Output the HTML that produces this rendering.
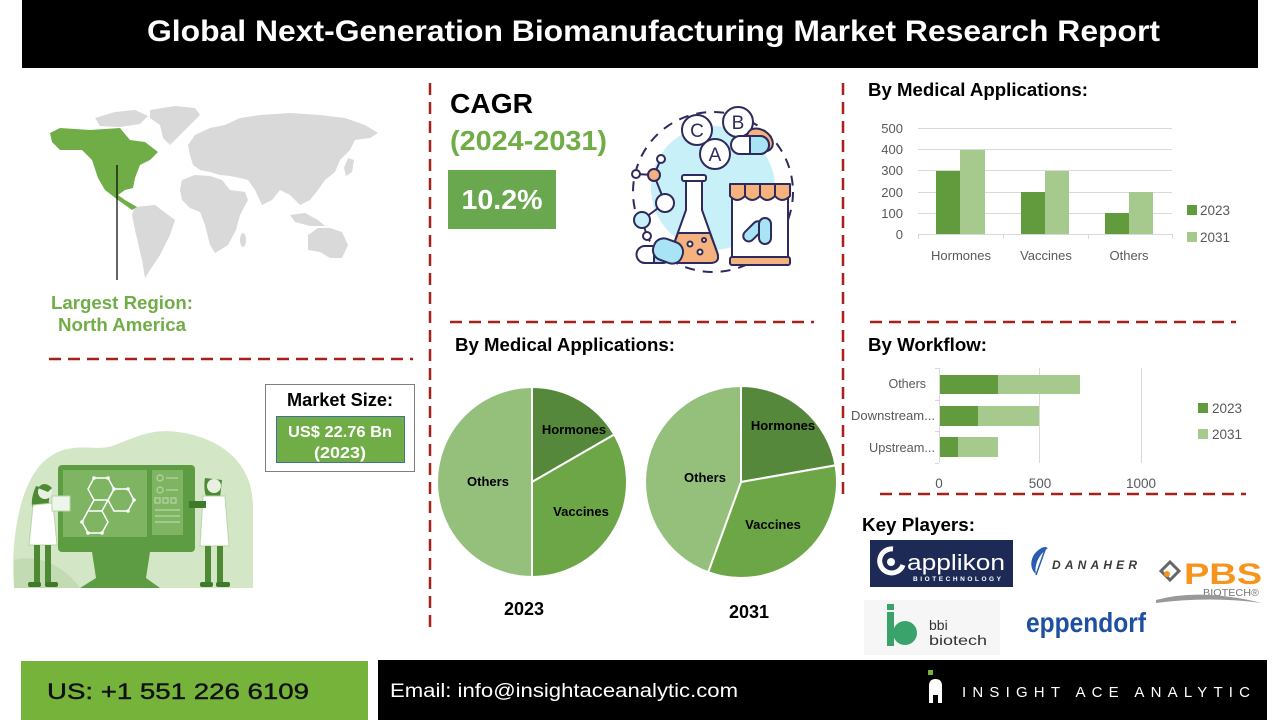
<!DOCTYPE html>
<html><head><meta charset="utf-8"><style>
html,body{margin:0;padding:0;background:#fff;}
svg{display:block;}
text{font-family:"Liberation Sans",Arial,sans-serif;}
</style></head><body>
<svg width="1280" height="720" viewBox="0 0 1280 720" xmlns="http://www.w3.org/2000/svg">
<rect width="1280" height="720" fill="#fff"/>
<!-- Header -->
<rect x="22" y="0" width="1236" height="68" fill="#000"/>
<text x="147" y="41" font-size="30" font-weight="bold" fill="#fff" textLength="1013" lengthAdjust="spacingAndGlyphs">Global Next-Generation Biomanufacturing Market Research Report</text>

<!-- Dashed dividers -->
<g stroke="#a8201a" stroke-width="2.5" stroke-dasharray="12 7" fill="none">
<line x1="430" y1="83" x2="430" y2="627"/>
<line x1="843" y1="83" x2="843" y2="498"/>
<line x1="49" y1="359" x2="413" y2="359"/>
<line x1="450" y1="322" x2="814" y2="322"/>
<line x1="870" y1="322" x2="1236" y2="322"/>
<line x1="880" y1="494" x2="1246" y2="494"/>
</g>

<!-- World map -->
<g fill="#d9d9d9">
<path d="M150,110 L175,106 L195,108 L200,115 L190,125 L180,135 L170,145 L163,138 L160,125 L150,118 Z"/>
<path d="M95,118 L115,112 L135,110 L148,116 L140,124 L120,127 L100,126 Z"/>
<path d="M188,145 L195,135 L210,128 L225,125 L240,118 L260,115 L290,113 L320,115 L345,118 L365,125 L378,133 L370,138 L355,140 L350,150 L340,160 L335,172 L325,180 L318,190 L310,200 L300,205 L290,195 L280,190 L272,200 L262,205 L255,190 L248,180 L240,178 L230,176 L220,175 L210,172 L200,170 L193,165 L190,155 Z"/>
<path d="M182,180 L195,175 L210,176 L222,180 L230,190 L245,192 L248,200 L240,215 L236,230 L228,245 L215,253 L210,245 L205,225 L200,212 L190,208 L182,200 L180,190 Z"/>
<ellipse cx="243" cy="240" rx="3" ry="7"/>
<path d="M308,235 L318,228 L330,228 L342,232 L348,245 L342,258 L330,258 L320,252 L308,250 Z"/>
<path d="M290,215 L305,213 L318,220 L325,226 L310,226 L295,222 Z"/>
<path d="M348,158 L354,160 L352,172 L346,176 L344,168 Z"/>
<path d="M135,207 L155,205 L175,220 L170,235 L160,255 L150,270 L145,278 L142,260 L135,230 L132,215 Z"/>
</g>
<path fill="#70ad47" d="M50,133 L60,128 L90,130 L120,128 L130,140 L145,142 L158,152 L150,160 L140,165 L135,178 L133,188 L125,190 L118,195 L125,200 L137,207 L132,210 L118,200 L105,190 L98,178 L92,160 L82,150 L60,150 L52,142 Z"/>
<line x1="117" y1="165" x2="117" y2="280" stroke="#000" stroke-width="1.2"/>
<text x="51" y="309" font-size="18" font-weight="bold" fill="#70ad47" textLength="142" lengthAdjust="spacingAndGlyphs">Largest Region:</text>
<text x="58" y="331" font-size="18" font-weight="bold" fill="#70ad47" textLength="128" lengthAdjust="spacingAndGlyphs">North America</text>

<!-- Market Size -->
<rect x="265.5" y="384.5" width="149" height="87" fill="#fff" stroke="#7f7f7f" stroke-width="1"/>
<text x="340" y="406" font-size="18" font-weight="bold" fill="#000" text-anchor="middle" textLength="106" lengthAdjust="spacingAndGlyphs">Market Size:</text>
<rect x="276.5" y="416.5" width="128" height="46" fill="#70ad47" stroke="#41719c" stroke-width="1"/>
<text x="340" y="437" font-size="16" font-weight="bold" fill="#fff" text-anchor="middle" textLength="104" lengthAdjust="spacingAndGlyphs">US$ 22.76 Bn</text>
<text x="340" y="458" font-size="16" font-weight="bold" fill="#fff" text-anchor="middle" textLength="52" lengthAdjust="spacingAndGlyphs">(2023)</text>

<!-- Scientist illustration -->
<path fill="#d3e6c6" d="M14,588 C10,540 20,478 48,458 C72,440 95,452 112,446 C135,438 150,428 178,432 C215,437 252,458 253,505 L253,588 Z"/>
<path fill="#c2dbb2" d="M14,588 L14,560 C30,555 60,560 80,588 Z"/>
<g>
<rect x="58" y="465" width="137" height="87" rx="4" fill="#5e9c44"/>
<rect x="63" y="470" width="84" height="67" fill="#7fb463"/>
<rect x="152" y="470" width="31" height="65" fill="#7fb463"/>
<path d="M92,552 L150,552 L146,578 L160,588 L80,588 L96,578 Z" fill="#5e9c44"/>
<g stroke="#fff" stroke-width="1.5" fill="none">
<polygon points="94,478 108,478 114,489 108,500 94,500 88,489"/>
<polygon points="114,489 128,489 134,500 128,511 114,511 108,500"/>
<polygon points="88,511 102,511 108,522 102,533 88,533 82,522"/>
<line x1="94" y1="500" x2="88" y2="511"/>
<line x1="108" y1="500" x2="102" y2="511"/>
</g>
<g fill="#fff"><circle cx="94" cy="478" r="1.8"/><circle cx="108" cy="478" r="1.8"/><circle cx="114" cy="489" r="1.8"/><circle cx="128" cy="489" r="1.8"/><circle cx="134" cy="500" r="1.8"/><circle cx="128" cy="511" r="1.8"/><circle cx="88" cy="533" r="1.8"/><circle cx="102" cy="533" r="1.8"/><circle cx="82" cy="522" r="1.8"/></g>
<g fill="none" stroke="#b8d6a6" stroke-width="1.2"><circle cx="160" cy="478" r="3"/><circle cx="160" cy="490" r="3"/><line x1="166" y1="478" x2="178" y2="478"/><line x1="166" y1="490" x2="178" y2="490"/><rect x="155" y="498" width="5" height="5"/><rect x="163" y="498" width="5" height="5"/><rect x="171" y="498" width="5" height="5"/><line x1="155" y1="510" x2="180" y2="510"/><line x1="155" y1="516" x2="180" y2="516"/><line x1="155" y1="522" x2="180" y2="522"/></g>
<!-- left woman -->
<path d="M36,486 C32,495 30,505 34,512 L48,510 L50,490 Z" fill="#4e8a34"/>
<circle cx="45" cy="492" r="7" fill="#e8f0e2"/>
<path d="M38,488 Q44,480 52,488 L48,492 Z" fill="#4e8a34"/>
<path d="M33,505 L53,503 L57,545 L29,545 Z" fill="#fff" stroke="#b8d6a6" stroke-width="1"/>
<rect x="34" y="545" width="6" height="38" fill="#4e8a34"/>
<rect x="45" y="545" width="6" height="38" fill="#4e8a34"/>
<rect x="28" y="582" width="13" height="5" rx="2" fill="#3f7a2a"/>
<rect x="45" y="582" width="13" height="5" rx="2" fill="#3f7a2a"/>
<rect x="52" y="496" width="18" height="15" fill="#eef5ea" stroke="#b8d6a6"/>
<!-- right woman -->
<path d="M205,478 C203,490 206,500 210,502 L220,498 L222,480 Z" fill="#4e8a34"/>
<circle cx="214" cy="486" r="7" fill="#e8f0e2"/>
<path d="M203,496 L225,496 L229,546 L200,546 Z" fill="#fff" stroke="#b8d6a6" stroke-width="1"/>
<rect x="205" y="546" width="6" height="37" fill="#4e8a34"/>
<rect x="217" y="546" width="6" height="37" fill="#4e8a34"/>
<rect x="200" y="582" width="13" height="5" rx="2" fill="#3f7a2a"/>
<rect x="216" y="582" width="14" height="5" rx="2" fill="#3f7a2a"/>
<rect x="189" y="501" width="17" height="7" fill="#3f7a2a"/>
</g>

<!-- CAGR -->
<text x="450" y="113" font-size="28" font-weight="bold" fill="#000" textLength="83" lengthAdjust="spacingAndGlyphs">CAGR</text>
<text x="450" y="150" font-size="28" font-weight="bold" fill="#70ad47" textLength="157" lengthAdjust="spacingAndGlyphs">(2024-2031)</text>
<rect x="448" y="170" width="108" height="59" fill="#6aa84f"/>
<text x="502" y="209" font-size="28" font-weight="bold" fill="#fff" text-anchor="middle" textLength="81" lengthAdjust="spacingAndGlyphs">10.2%</text>

<!-- CAGR icon -->
<g stroke="#2e2a5c" stroke-width="2" stroke-linejoin="round">
<circle cx="713" cy="188" r="62" fill="#c8f0f8" stroke="none"/>
<circle cx="713" cy="192" r="80" fill="none" stroke-dasharray="10 8"/>
<path d="M661,159 L654,175 L636,174 M654,175 L665,203 L642,220 L647,236" fill="none"/>
<circle cx="661" cy="159" r="4" fill="#fff"/>
<circle cx="636" cy="174" r="4" fill="#fff"/>
<circle cx="654" cy="175" r="6" fill="#f5b27e"/>
<circle cx="665" cy="203" r="9" fill="#fff"/>
<circle cx="642" cy="220" r="8" fill="#c8f0f8"/>
<circle cx="647" cy="236" r="4" fill="#fff"/>
<circle cx="697" cy="130" r="15" fill="#fff"/>
<circle cx="738" cy="122" r="15" fill="#fff"/>
<ellipse cx="760" cy="140" rx="14" ry="10" fill="#f5b27e" transform="rotate(35 760 140)"/>
<circle cx="715" cy="154" r="15" fill="#fff"/>
<rect x="731" y="136" width="38" height="18" rx="9" fill="#fff"/>
<path d="M750,136 L760,136 A9,9 0 0 1 760,154 L750,154 Z" fill="#a8e4f5"/>
<path d="M686,181 L686,210 L671,252 Q668,263 680,263 L710,263 Q721,263 717,252 L702,210 L702,181 Z" fill="#fff"/>
<path d="M678,233 L710,233 L717,252 Q721,263 710,263 L680,263 Q668,263 671,252 Z" fill="#f5b27e"/>
<rect x="682" y="175" width="24" height="6" rx="2" fill="#fff"/>
<circle cx="690" cy="244" r="2.5" fill="#fff"/><circle cx="700" cy="252" r="2.5" fill="#fff"/><circle cx="704" cy="240" r="2" fill="#fff"/>
<rect x="637" y="246" width="34" height="17" rx="8.5" fill="#a8e4f5"/>
<path d="M654,246 L645,246 A8.5,8.5 0 0 0 645,263 L654,263 Z" fill="#fff"/>
<rect x="653" y="240" width="30" height="22" rx="10" fill="#a8e4f5" transform="rotate(20 668 251)"/>
<rect x="732" y="192" width="56" height="72" fill="#fff"/>
<path d="M730,184 L790,184 L790,196 Q782,204 775,196 Q767,204 760,196 Q752,204 745,196 Q737,204 730,196 Z" fill="#f5b27e"/>
<line x1="745" y1="184" x2="745" y2="196"/><line x1="760" y1="184" x2="760" y2="196"/><line x1="775" y1="184" x2="775" y2="196"/>
<rect x="730" y="257" width="60" height="8" rx="2" fill="#f5b27e"/>
<rect x="741" y="226" width="24" height="11" rx="5.5" fill="#a8e4f5" transform="rotate(-45 753 231)"/>
<rect x="759" y="218" width="12" height="26" rx="6" fill="#a8e4f5"/>
</g>
<g font-size="19" fill="#2e2a5c" text-anchor="middle"><text x="697" y="137">C</text><text x="738" y="129">B</text><text x="715" y="161">A</text></g>

<!-- Pie charts -->
<text x="455" y="351" font-size="18" font-weight="bold" fill="#000" textLength="220" lengthAdjust="spacingAndGlyphs">By Medical Applications:</text>
<g stroke="#fff" stroke-width="2">
<path d="M532,482 L532,387 A95,95 0 0 1 614.27,434.5 Z" fill="#55883a"/>
<path d="M532,482 L614.27,434.5 A95,95 0 0 1 532,577 Z" fill="#6da646"/>
<path d="M532,482 L532,577 A95,95 0 0 1 532,387 Z" fill="#94c07c"/>
<path d="M741,482 L741,386 A96,96 0 0 1 835.54,465.33 Z" fill="#55883a"/>
<path d="M741,482 L835.54,465.33 A96,96 0 0 1 708.17,572.21 Z" fill="#6da646"/>
<path d="M741,482 L708.17,572.21 A96,96 0 0 1 741,386 Z" fill="#94c07c"/>
</g>
<g font-size="13" font-weight="bold" fill="#000" text-anchor="middle">
<text x="574" y="434">Hormones</text>
<text x="581" y="516">Vaccines</text>
<text x="488" y="486">Others</text>
<text x="783" y="430">Hormones</text>
<text x="773" y="529">Vaccines</text>
<text x="705" y="482">Others</text>
</g>
<text x="524" y="615" font-size="18" font-weight="bold" fill="#000" text-anchor="middle">2023</text>
<text x="749" y="618" font-size="18" font-weight="bold" fill="#000" text-anchor="middle">2031</text>

<!-- Bar chart -->
<text x="868" y="96" font-size="18" font-weight="bold" fill="#000" textLength="220" lengthAdjust="spacingAndGlyphs">By Medical Applications:</text>
<g stroke="#d9d9d9" stroke-width="1">
<line x1="918" y1="128.5" x2="1172" y2="128.5"/>
<line x1="918" y1="149.5" x2="1172" y2="149.5"/>
<line x1="918" y1="170.5" x2="1172" y2="170.5"/>
<line x1="918" y1="192.5" x2="1172" y2="192.5"/>
<line x1="918" y1="213.5" x2="1172" y2="213.5"/>
<line x1="918" y1="234.5" x2="1172" y2="234.5"/>
<line x1="918.5" y1="234" x2="918.5" y2="239"/>
<line x1="1003.5" y1="234" x2="1003.5" y2="239"/>
<line x1="1088.5" y1="234" x2="1088.5" y2="239"/>
<line x1="1172.5" y1="234" x2="1172.5" y2="239"/>
</g>
<g fill="#629b3e">
<rect x="936" y="171" width="24" height="63"/>
<rect x="1021" y="192" width="24" height="42"/>
<rect x="1105" y="213" width="24" height="21"/>
</g>
<g fill="#a6ca8e">
<rect x="960" y="150" width="25" height="84"/>
<rect x="1045" y="171" width="24" height="63"/>
<rect x="1129" y="192" width="24" height="42"/>
</g>
<g font-size="13" fill="#595959" text-anchor="end">
<text x="903" y="133">500</text><text x="903" y="154">400</text><text x="903" y="175">300</text><text x="903" y="197">200</text><text x="903" y="218">100</text><text x="903" y="239">0</text>
</g>
<g font-size="13" fill="#595959" text-anchor="middle">
<text x="961" y="260">Hormones</text><text x="1046" y="260">Vaccines</text><text x="1129" y="260">Others</text>
</g>
<rect x="1187" y="205" width="10" height="10" fill="#629b3e"/>
<rect x="1187" y="232" width="10" height="10" fill="#a6ca8e"/>
<g font-size="13.5" fill="#595959"><text x="1200" y="215">2023</text><text x="1200" y="242">2031</text></g>

<!-- Workflow chart -->
<text x="868" y="351" font-size="18" font-weight="bold" fill="#000" textLength="119" lengthAdjust="spacingAndGlyphs">By Workflow:</text>
<g stroke="#d9d9d9" stroke-width="1">
<line x1="1039.5" y1="368" x2="1039.5" y2="463"/>
<line x1="1141.5" y1="368" x2="1141.5" y2="463"/>
<line x1="939.5" y1="368" x2="939.5" y2="463"/>
<line x1="935" y1="368.5" x2="939" y2="368.5"/>
<line x1="935" y1="400.5" x2="939" y2="400.5"/>
<line x1="935" y1="431.5" x2="939" y2="431.5"/>
<line x1="935" y1="463.5" x2="939" y2="463.5"/>
</g>
<rect x="940" y="375" width="58" height="19" fill="#629b3e"/>
<rect x="998" y="375" width="82" height="19" fill="#a6ca8e"/>
<rect x="940" y="406" width="38" height="20" fill="#629b3e"/>
<rect x="978" y="406" width="61" height="20" fill="#a6ca8e"/>
<rect x="940" y="437" width="18" height="20" fill="#629b3e"/>
<rect x="958" y="437" width="40" height="20" fill="#a6ca8e"/>
<g font-size="12.5" fill="#595959" text-anchor="end">
<text x="926" y="388">Others</text>
<text x="935" y="420" textLength="84" lengthAdjust="spacingAndGlyphs">Downstream...</text>
<text x="935" y="452" textLength="66" lengthAdjust="spacingAndGlyphs">Upstream...</text>
</g>
<g font-size="13.5" fill="#595959" text-anchor="middle">
<text x="939" y="488">0</text><text x="1040" y="488">500</text><text x="1141" y="488">1000</text>
</g>
<rect x="1198" y="403" width="10" height="10" fill="#629b3e"/>
<rect x="1198" y="429" width="10" height="10" fill="#a6ca8e"/>
<g font-size="13.5" fill="#595959"><text x="1212" y="413">2023</text><text x="1212" y="439">2031</text></g>

<!-- Key Players -->
<text x="862" y="531" font-size="18" font-weight="bold" fill="#000" textLength="113" lengthAdjust="spacingAndGlyphs">Key Players:</text>
<rect x="870" y="540" width="143" height="47" fill="#1c2a55"/>
<path d="M893,549 A12,12 0 1 0 903,565" fill="none" stroke="#fff" stroke-width="5"/>
<circle cx="891" cy="562" r="4" fill="#fff"/>
<text x="907" y="570" font-size="22" fill="#fff" textLength="98" lengthAdjust="spacingAndGlyphs">applikon</text>
<text x="913" y="581" font-size="6.5" font-weight="bold" fill="#fff" textLength="88" lengthAdjust="spacing">BIOTECHNOLOGY</text>
<path d="M1044,547 C1030,552 1028,568 1036,574 C1034,566 1038,555 1048,548 Z" fill="#2a5db0"/>
<path d="M1046,547 L1036,575" stroke="#2a5db0" stroke-width="1.5"/>
<text x="1052" y="569" font-size="12" font-weight="bold" font-style="italic" fill="#3a3a3a" textLength="85" lengthAdjust="spacing">DANAHER</text>
<polygon points="1170,562 1179,571 1170,580 1161,571" fill="none" stroke="#666" stroke-width="3"/>
<circle cx="1167" cy="574" r="3" fill="#f7941d"/>
<text x="1184" y="584" font-size="30" font-weight="bold" fill="#f7941d" textLength="78" lengthAdjust="spacingAndGlyphs">PBS</text>
<text x="1203" y="596" font-size="10" fill="#777" textLength="56" lengthAdjust="spacingAndGlyphs">BIOTECH®</text>
<path d="M1156,600 Q1200,588 1262,603 Q1210,596 1156,603 Z" fill="#999"/>
<rect x="864" y="600" width="136" height="55" fill="#f6f6f6"/>
<rect x="887" y="612" width="7" height="34" fill="#3aa36b"/>
<rect x="887" y="604" width="7" height="6" fill="#3aa36b"/>
<circle cx="905" cy="633" r="12" fill="#3aa36b"/>
<text x="929" y="630" font-size="14" fill="#333">bbi</text>
<text x="929" y="645" font-size="14" fill="#333" textLength="58" lengthAdjust="spacingAndGlyphs">biotech</text>
<text x="1026" y="632" font-size="28" font-weight="bold" fill="#1f4fa0" textLength="120" lengthAdjust="spacingAndGlyphs">eppendorf</text>

<!-- Footer -->
<rect x="21" y="661" width="347" height="59" fill="#76b33a"/>
<text x="47" y="699" font-size="22" fill="#111" textLength="262" lengthAdjust="spacingAndGlyphs" stroke="#111" stroke-width="0.4">US: +1 551 226 6109</text>
<rect x="378" y="660" width="889" height="60" fill="#000"/>
<text x="390" y="697" font-size="19" fill="#fff" textLength="348" lengthAdjust="spacingAndGlyphs">Email: info@insightaceanalytic.com</text>
<rect x="928" y="670" width="5" height="5" fill="#76b33a"/>
<path d="M929,703 L929,686 Q929,679 935.5,679 Q942,679 942,686 L942,703 L938,703 L938,695 L933,695 L933,703 Z" fill="#fff"/>
<text x="962" y="697" font-size="15" fill="#fff" textLength="288" lengthAdjust="spacing">INSIGHT ACE ANALYTIC</text>
</svg>
</body></html>
